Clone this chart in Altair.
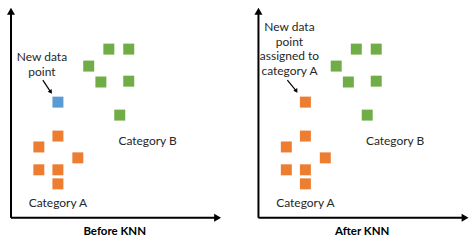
import altair as alt
import pandas as pd

# Data (abstract units: x 0-10, y 0-10 per panel)
green_x = [4.67, 5.62, 3.71, 4.29, 5.62, 5.19]
green_y = [8.05, 8.05, 7.24, 6.48, 6.52, 4.90]
orange_x = [2.24, 1.33, 3.19, 1.33, 2.24, 2.24]
orange_y = [3.90, 3.38, 2.86, 2.29, 2.29, 1.62]
new_x = [2.24]
new_y = [5.52]

panel_titles = ["Before KNN", "After KNN"]
new_colors = ["#5B9BD5", "#ED7D31"]
note_lines = [["New data", "point"], ["New data", "point", "assigned to", "category A"]]
note_y = [[7.67, 6.98], [9.10, 8.40, 7.71, 7.02]]
note_x = [1.48, 1.48]
arrow_start = [(1.52, 6.57), (1.38, 6.57)]
arrow_tip = [(1.90, 6.00), (1.81, 6.05)]
cat_labels = ["Category A", "Category B"]
cat_x = [2.24, 6.52]
cat_y = [0.71, 3.67]
title_xy = (4.95, -0.67)

GREEN = "#70AD47"
FONT = "Lato"

xs = alt.Scale(domain=[0, 10], nice=False, zero=False)
ys = alt.Scale(domain=[0, 10], nice=False, zero=False)


def pos(extra=None):
    enc = dict(x=alt.X("x:Q", scale=xs, axis=None), y=alt.Y("y:Q", scale=ys, axis=None))
    if extra:
        enc.update(extra)
    return enc


def panel(i):
    layers = []
    axes_df = pd.DataFrame({"x": [0, 0], "y": [0, 0], "x2": [9.86, 0], "y2": [0, 9.86]})
    layers.append(alt.Chart(axes_df).mark_rule(color="black", strokeWidth=2).encode(
        **pos({"x2": "x2:Q", "y2": "y2:Q"})))
    layers.append(alt.Chart(pd.DataFrame({"x": [9.86], "y": [0]})).mark_point(
        shape="triangle-right", filled=True, size=64, color="black", opacity=1).encode(**pos()))
    layers.append(alt.Chart(pd.DataFrame({"x": [0], "y": [9.86]})).mark_point(
        shape="triangle-up", filled=True, size=64, color="black", opacity=1).encode(**pos()))
    layers.append(alt.Chart(pd.DataFrame({"x": green_x, "y": green_y})).mark_square(
        size=121, opacity=1, color=GREEN).encode(**pos()))
    layers.append(alt.Chart(pd.DataFrame({"x": orange_x, "y": orange_y})).mark_square(
        size=121, opacity=1, color="#ED7D31").encode(**pos()))
    layers.append(alt.Chart(pd.DataFrame({"x": new_x, "y": new_y})).mark_square(
        size=121, opacity=1, color=new_colors[i]).encode(**pos()))
    arr_df = pd.DataFrame({"x": [arrow_start[i][0]], "y": [arrow_start[i][1]],
                           "x2": [arrow_tip[i][0]], "y2": [arrow_tip[i][1]]})
    layers.append(alt.Chart(arr_df).mark_rule(color="black", strokeWidth=1.2).encode(
        **pos({"x2": "x2:Q", "y2": "y2:Q"})))
    layers.append(alt.Chart(pd.DataFrame({"x": [arrow_tip[i][0]], "y": [arrow_tip[i][1]]})).mark_point(
        shape="triangle-up", filled=True, size=22, color="black", opacity=1, angle=146).encode(**pos()))
    txt_df = pd.DataFrame({
        "x": [note_x[i]] * len(note_lines[i]) + cat_x,
        "y": note_y[i] + cat_y,
        "t": note_lines[i] + cat_labels,
    })
    layers.append(alt.Chart(txt_df).mark_text(font=FONT, fontSize=12, color="#262626",
                                              align="center", baseline="middle").encode(
        **pos({"text": "t:N"})))
    ttl_df = pd.DataFrame({"x": [title_xy[0]], "y": [title_xy[1]], "t": [panel_titles[i]]})
    layers.append(alt.Chart(ttl_df).mark_text(font=FONT, fontSize=11.5, fontWeight="bold", color="black",
                                              align="center", baseline="middle").encode(
        **pos({"text": "t:N"})))
    return alt.layer(*layers).properties(width=210, height=210)


chart = alt.hconcat(panel(0), panel(1), spacing=33).properties(
    padding={"left": 7, "top": 7, "right": 5, "bottom": 6},
    background="white",
).configure_view(stroke=None)

chart.save("out.html", embed_options={"renderer": "svg", "actions": False})
